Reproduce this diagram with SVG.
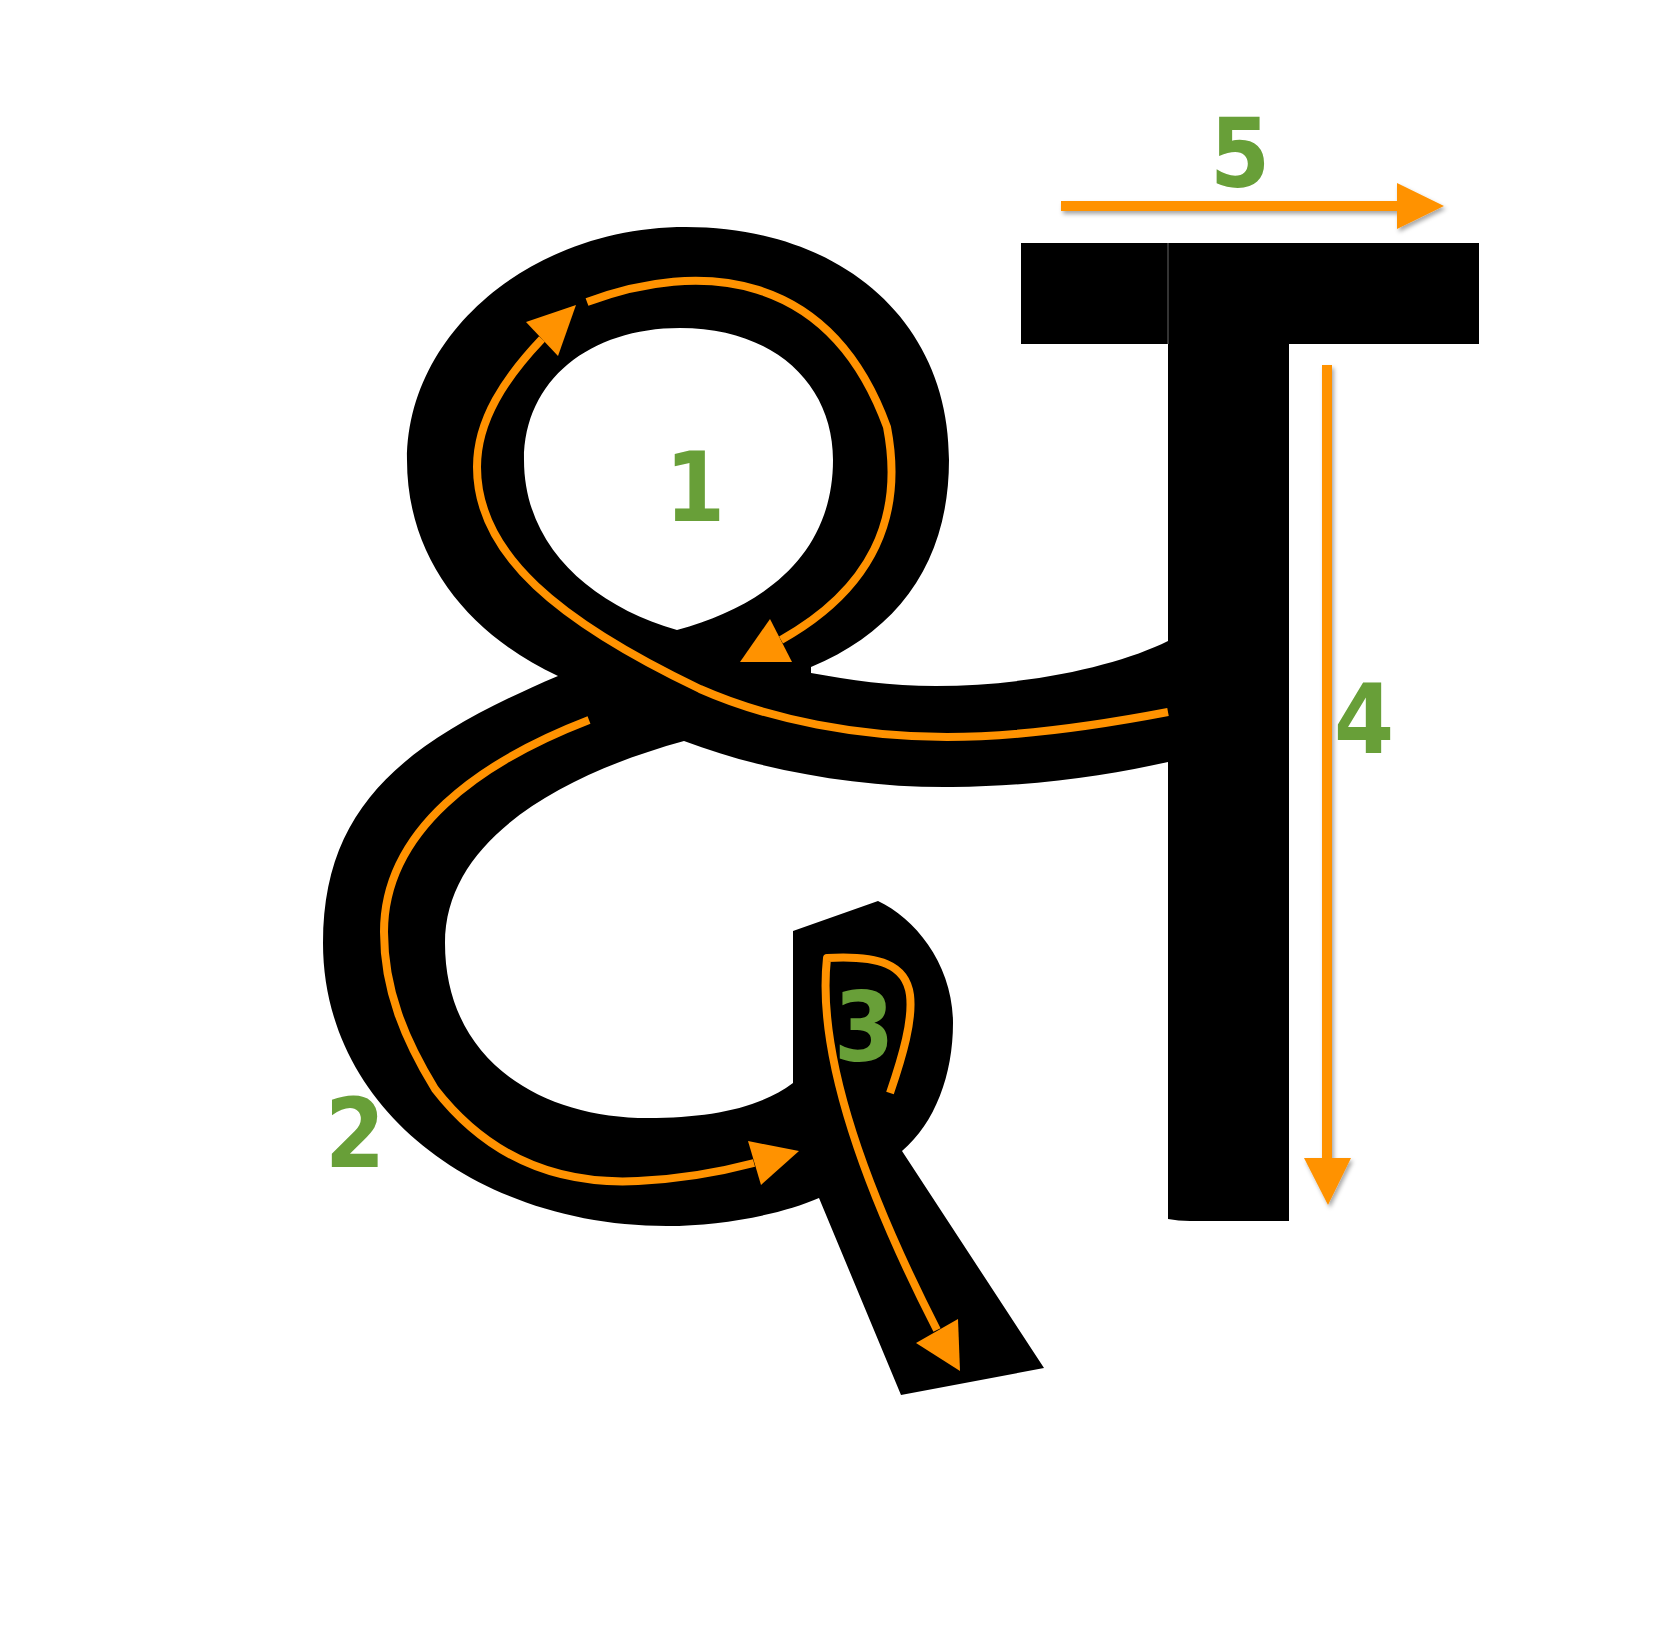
<svg xmlns="http://www.w3.org/2000/svg" width="1668" height="1651" viewBox="0 0 1668 1651">
<style>
.ink{fill:#000}
.st{fill:none;stroke:#ff9200;stroke-width:8;stroke-linecap:butt;stroke-linejoin:round}
.st5{fill:none;stroke:#ff9200;stroke-width:10}
.head{fill:#ff9200}
.lbl{font-family:"DejaVu Sans Condensed","DejaVu Sans","Liberation Sans",sans-serif;font-stretch:condensed;font-weight:bold;font-size:96px;fill:#689f38;text-anchor:middle}
</style>
<defs>
<filter id="sh" x="-10%" y="-10%" width="120%" height="120%">
<feDropShadow dx="2" dy="3" stdDeviation="2" flood-color="#000" flood-opacity="0.35"/>
</filter>
</defs>
<rect width="1668" height="1651" fill="#fff"/>
<g id="glyph">
<path class="ink" fill-rule="evenodd" d="M686,227 C533,227 407,332 407,460 C407,560 470,635 558,676 C408,740 323,803 323,943 C323,1110 480,1226 667,1226 C720,1226 780,1215 819,1198 L901,1395 L1044,1368 L902,1151 C935,1123 953,1075 953,1023 C953,965 915,918 878,901 L793,931 L793,1083 C760,1108 710,1118 648,1118 C540,1118 445,1060 445,943 C445,840 560,775 684,741 C760,770 860,788 952,787 C1040,786 1110,775 1168,762 L1168,641 C1120,665 1030,686 936,686 C890,686 850,680 811,673 L811,667 C900,630 949,560 949,460 C949,320 840,227 686,227 Z M677,630 C590,605 524,545 524,460 C524,380 590,328 680,328 C775,328 833,385 833,460 C833,550 770,605 677,630 Z"/>
<rect class="ink" x="1021" y="243" width="147" height="101"/>
<rect class="ink" x="1168" y="243" width="311" height="101"/>
<path class="ink" d="M1168,243 H1289 V1221 H1190 Q1178,1221 1168,1219 Z"/>
<path d="M1168,243 V344" stroke="#666" stroke-width="1" fill="none"/>
</g>
<g id="connectors">
<path class="st" d="M1168,712 C1100,725 1020,737 947,737 C860,737 770,720 700,689 C560,622 477,555 477,467 C477,420 505,378 542,339"/>
<polygon class="head" points="576,305 526,322 558,356"/>
<path class="st" d="M587,302 C700,260 830,270 887,427 C905,520 870,590 781,640"/>
<polygon class="head" points="740,662 770,619 792,662"/>
<path class="st" d="M589,720 C480,762 384,830 384,932 C384,990 405,1040 435,1089 C490,1160 560,1185 638,1181 C680,1179 720,1172 754,1163"/>
<polygon class="head" points="799,1151 748,1141 761,1185"/>
<path class="st" d="M890,1093 C903,1055 913,1020 910,995 C906,965 880,955 827,958 C818,1040 850,1160 937,1330"/>
<polygon class="head" points="916,1343 958,1319 960,1371"/>
<g filter="url(#sh)">
<path class="st5" d="M1327,365 V1160"/>
<polygon class="head" points="1304,1158 1351,1158 1328,1205"/>
<path class="st5" d="M1061,206 H1398"/>
<polygon class="head" points="1397,183 1397,229 1444,206"/>
</g>
</g>
<g id="labels">
<text class="lbl" x="695" y="521">1</text>
<text class="lbl" x="355" y="1167">2</text>
<text class="lbl" x="864" y="1061">3</text>
<text class="lbl" x="1364" y="753">4</text>
<text class="lbl" x="1240" y="187">5</text>
</g>
</svg>
